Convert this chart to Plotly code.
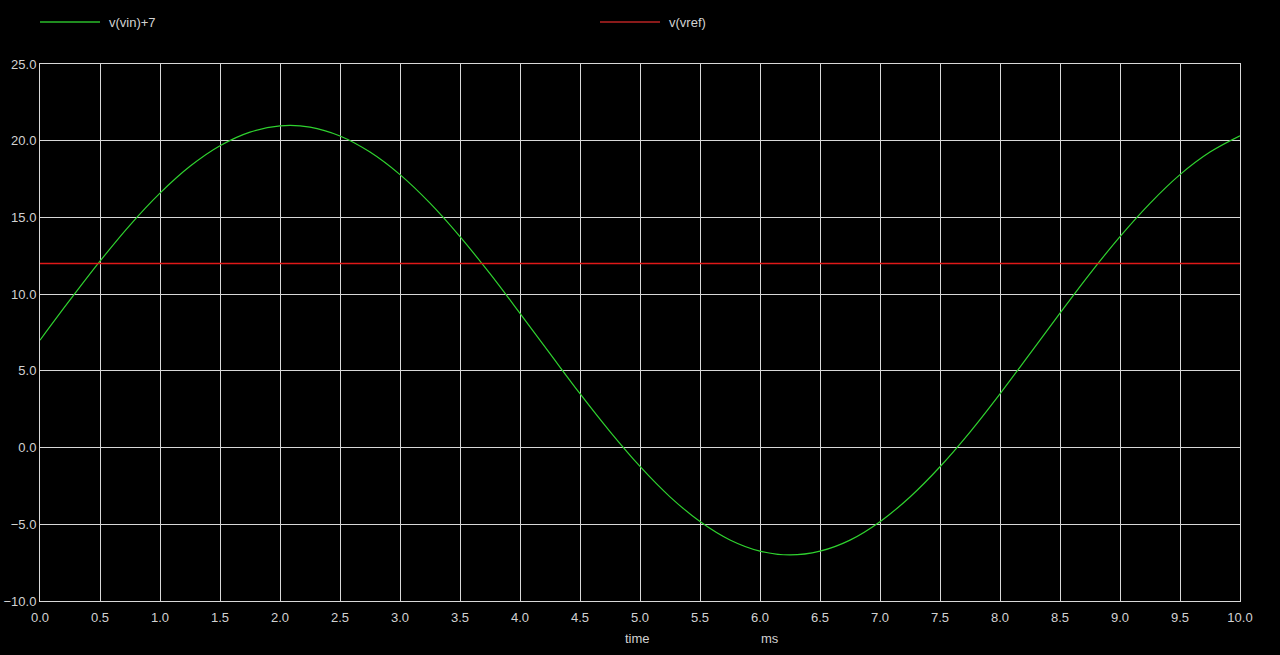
import plotly.graph_objects as go

# time in ms
time_ms = [0.0, 0.25, 0.5, 0.75, 1.0, 1.25, 1.5, 1.75, 2.0, 2.25, 2.5, 2.75, 3.0, 3.25, 3.5, 3.75,
           4.0, 4.25, 4.5, 4.75, 5.0, 5.25, 5.5, 5.75, 6.0, 6.25, 6.5, 6.75, 7.0, 7.25, 7.5, 7.75,
           8.0, 8.25, 8.5, 8.75, 9.0, 9.25, 9.5, 9.75, 10.0]
vin_plus7 = [7.0, 9.62, 12.15, 14.50, 16.58, 18.33, 19.67, 20.56, 20.97, 20.89, 20.31, 19.26, 17.79,
             15.93, 13.75, 11.33, 8.75, 6.12, 3.51, 1.04, -1.23, -3.21, -4.82, -6.02, -6.75, -7.0,
             -6.75, -6.03, -4.83, -3.22, -1.25, 1.01, 3.50, 6.12, 8.76, 11.34, 13.75, 15.92, 17.79,
             19.26, 20.32]
vref_time = [0.0, 10.0]
vref = [12.0, 12.0]

names = ["v(vin)+7", "v(vref)"]
trace_colors = ["#2fd22f", "#e01818"]
legend_colors = ["#1f8c1f", "#8a1a1a"]

W, H = 1280, 655
L, R, T, B = 40, 40, 64, 54
pw, ph = W - L - R, H - T - B

def px_x(p):
    return (p - L) / pw

def px_y(p):
    return (H - B - p) / ph

fig = go.Figure()
fig.add_trace(go.Scatter(x=time_ms, y=vin_plus7, mode="lines", line=dict(color=trace_colors[0], width=1.2, shape="spline"), name=names[0]))
fig.add_trace(go.Scatter(x=vref_time, y=vref, mode="lines", line=dict(color=trace_colors[1], width=1.4), name=names[1]))

font = dict(family="Liberation Sans, Arial, sans-serif", size=13, color="#d2d2d2")
fig.update_layout(
    width=W, height=H,
    paper_bgcolor="black", plot_bgcolor="black",
    margin=dict(l=L, r=R, t=T, b=B),
    showlegend=False,
    font=font,
    xaxis=dict(range=[0, 10], dtick=0.5, tick0=0, tickformat=".1f", showgrid=True, gridcolor="#d8d8d8", gridwidth=1,
               zeroline=False, showline=True, linecolor="#d8d8d8", mirror=True, ticks="outside", ticklen=4,
               tickcolor="black", tickfont=font, automargin=False),
    yaxis=dict(range=[-10, 25], dtick=5, tick0=-10, tickformat=".1f", showgrid=True, gridcolor="#d8d8d8", gridwidth=1,
               zeroline=False, showline=True, linecolor="#d8d8d8", mirror=True, ticks="", ticklen=0,
               tickfont=font, automargin=False),
)

legend_pos = [(40, 100, 107), (600, 660, 667)]
for (x0, x1, tx), nm, c in zip(legend_pos, names, legend_colors):
    fig.add_shape(type="line", xref="paper", yref="paper", x0=px_x(x0), x1=px_x(x1), y0=px_y(22), y1=px_y(22),
                  line=dict(color=c, width=2))
    fig.add_annotation(xref="paper", yref="paper", x=px_x(tx), y=px_y(23), text=nm, showarrow=False,
                       xanchor="left", yanchor="middle", font=font)

fig.add_annotation(xref="paper", yref="paper", x=px_x(637), y=px_y(638), text="time", showarrow=False,
                   xanchor="center", yanchor="middle", font=font)
fig.add_annotation(xref="paper", yref="paper", x=px_x(770), y=px_y(638), text="ms", showarrow=False,
                   xanchor="center", yanchor="middle", font=font)

fig.write_html("out.html", config={"displayModeBar": False},
               post_script="document.body.style.margin='0';document.body.style.background='black';document.body.style.overflow='hidden';")
